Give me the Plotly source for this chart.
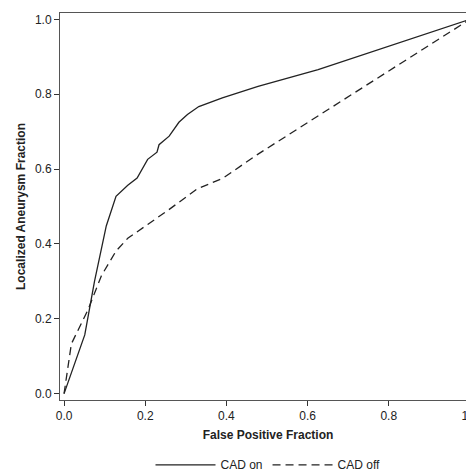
import plotly.graph_objects as go

on_x = [0, 0.051, 0.075, 0.104, 0.128, 0.157, 0.180, 0.206, 0.229, 0.234, 0.259, 0.283, 0.304, 0.332, 0.390, 0.478, 0.626, 1.0]
on_y = [0, 0.157, 0.30, 0.448, 0.527, 0.557, 0.576, 0.626, 0.645, 0.665, 0.688, 0.725, 0.746, 0.767, 0.790, 0.821, 0.866, 1.0]
off_x = [0, 0.018, 0.059, 0.092, 0.128, 0.157, 0.206, 0.255, 0.328, 0.392, 0.478, 1.0]
off_y = [0, 0.133, 0.224, 0.315, 0.381, 0.415, 0.452, 0.489, 0.547, 0.576, 0.640, 1.0]
ticks = [0, 0.2, 0.4, 0.6, 0.8, 1.0]
tick_text = ["0.0", "0.2", "0.4", "0.6", "0.8", "1.0"]

fig = go.Figure()
fig.add_trace(go.Scatter(x=on_x, y=on_y, mode="lines", name="CAD on",
                         line=dict(color="#222", width=1.3)))
fig.add_trace(go.Scatter(x=off_x, y=off_y, mode="lines", name="CAD off",
                         line=dict(color="#222", width=1.3, dash="8px,5px")))
ax = dict(tickvals=ticks, ticktext=tick_text, showgrid=False, zeroline=False, automargin=False,
          showline=True, mirror=True, linecolor="#555", linewidth=1, ticks="outside",
          ticklen=5, tickcolor="#333", tickfont=dict(size=12, color="#222"))
fig.update_layout(
    width=474, height=476, paper_bgcolor="white", plot_bgcolor="white",
    font=dict(family="Liberation Sans, Arial, sans-serif", color="#222"),
    margin=dict(l=52, r=6, t=5, b=61),
    xaxis=dict(ax, range=[-0.01, 1.015],
               title=dict(text="<b>False Positive Fraction</b>", font=dict(size=12), standoff=8)),
    yaxis=dict(ax, range=[-0.017, 1.017],
               title=dict(text="<b>Localized Aneurysm Fraction</b>", font=dict(size=12), standoff=6)),
    legend=dict(orientation="h", x=0.5, xanchor="center", y=-0.13, yanchor="top",
                font=dict(size=12), itemwidth=60),
    showlegend=True,
)
fig.write_html("out.html")
